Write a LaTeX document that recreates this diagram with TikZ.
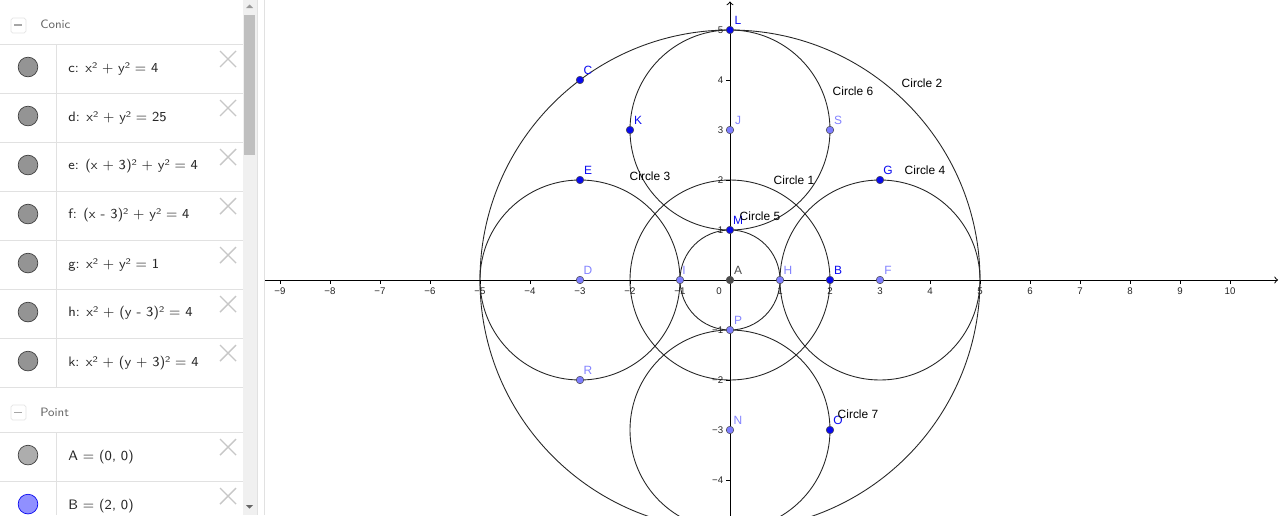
\documentclass[tikz,border=0pt]{standalone}
\usepackage{fontspec}
\setmainfont{Liberation Sans}
\usetikzlibrary{calc}
\definecolor{ptblue}{RGB}{10,10,240}
\definecolor{ptlight}{RGB}{125,125,255}
\definecolor{ptlabel}{RGB}{130,130,255}
\definecolor{rowline}{RGB}{225,225,225}
\tikzset{>=to,
  conic/.style={draw=black!85,line width=0.5pt},
  axis/.style={draw=black,line width=0.55pt},
  freept/.style={circle,draw=black!70,fill=ptblue,inner sep=0pt,minimum size=4.3pt,line width=0.3pt},
  boundpt/.style={freept,fill=ptlight},
  originpt/.style={freept,fill=black!70},
  ticklabel/.style={font=\fontsize{5.5}{6}\selectfont,text=black!85,inner sep=0pt},
  ptname/.style={font=\fontsize{6.8}{7}\selectfont,inner sep=0pt},
  circlename/.style={font=\fontsize{6.8}{7}\selectfont,text=black,inner sep=0pt},
  eqtext/.style={font=\sffamily\addfontfeatures{WordSpace=0.3}\fontsize{7.8}{10}\selectfont,text=black!85,anchor=west,inner sep=0pt},
  headtext/.style={font=\sffamily\fontsize{6.9}{8}\selectfont,text=black!60,anchor=west,inner sep=0pt},
  viewdot/.style={circle,draw=black!75,fill=black!42,minimum size=11.2pt,inner sep=0pt,line width=0.4pt},
  closex/.style={draw=black!22,line width=0.75pt},
}
\newcommand*{\closemark}[1]
  {\draw[closex] (#1) ++(-8,-8) -- ++(16,16) ++(-16,0) -- ++(16,-16)}
\newcommand*{\foldbox}[1]
  {\draw[draw=black!10,rounded corners=1pt,line width=0.4pt] (#1) ++(-7,-7) rectangle ++(15,15);
   \draw[black!35,line width=0.6pt] (#1) ++(-3.5,0) -- ++(8,0)}

\begin{document}
\begin{tikzpicture}
\useasboundingbox (-14.6,-4.7) rectangle (11,5.6);
\clip (-14.6,-4.7) rectangle (11,5.6);
\fill[white] (-14.6,-4.7) rectangle (11,5.6);
% circles
\draw[conic] (0,0) circle (2);
\draw[conic] (0,0) circle (5);
\draw[conic] (-3,0) circle (2);
\draw[conic] (3,0) circle (2);
\draw[conic] (0,0) circle (1);
\draw[conic] (0,3) circle (2);
\draw[conic] (0,-3) circle (2);
% axes
\coordinate (xstart) at (-9.3,0);
\coordinate (xend) at (10.96,0);
\coordinate (ystart) at (0,-4.8);
\coordinate (yend) at (0,5.57);
\draw[axis,->] (xstart) -- (xend);
\draw[axis,->] (ystart) -- (yend);
\foreach \x in {-9,...,-1,1,2,...,10} {
  \draw[axis] (\x,0) -- (\x,-0.07);
  \node[ticklabel] (xt\x) at (\x,-0.22) {\ifnum\x<0 −\the\numexpr-\x\relax\else\x\fi};
}
\foreach \y in {-4,-3,-2,-1,1,2,3,4,5} {
  \draw[axis] (0,\y) -- (-0.07,\y);
  \node[ticklabel,anchor=east] (yt\y) at (-0.13,\y) {\ifnum\y<0 −\the\numexpr-\y\relax\else\y\fi};
}
\node[ticklabel] (zero) at (-0.22,-0.22) {0};
% points
\node[originpt] (A) at (0,0) {};
\foreach \n/\p in {B/{2,0},C/{-3,4},E/{-3,2},G/{3,2},K/{-2,3},L/{0,5},M/{0,1},O/{2,-3}} {
  \node[freept] (\n) at (\p) {};
  \node[ptname,text=ptblue] (lab\n) at ($(\n)+(0.16,0.19)$) {\n};
}
\foreach \n/\p in {D/{-3,0},F/{3,0},H/{1,0},J/{0,3},N/{0,-3},P/{0,-1},R/{-3,-2},S/{2,3}} {
  \node[boundpt] (\n) at (\p) {};
  \node[ptname,text=ptlabel] (lab\n) at ($(\n)+(0.16,0.19)$) {\n};
}
\node[boundpt] (I) at (-1,0) {};
\node[ptname,text=ptlabel] (labI) at ($(I)+(0.08,0.19)$) {I};
\node[ptname,text=black!70] (labA) at ($(A)+(0.16,0.19)$) {A};
% circle names
\foreach \n/\t/\p in {c1/1/{1.28,2},c2/2/{3.84,3.94},c3/3/{-1.6,2.08},c4/4/{3.9,2.2},c5/5/{0.6,1.28},c6/6/{2.46,3.78},c7/7/{2.56,-2.68}}
  \node[circlename] (\n) at (\p) {Circle \t};
% algebra panel
\begin{scope}[shift={(-14.6,5.6)},x=0.02cm,y=-0.02cm]
\fill[white] (0,0) rectangle (264,515);
\fill[black!6] (243,0) rectangle (257,515);
\fill[black!25] (244,15) rectangle (255,155);
\draw[rowline] (257,0) -- (257,515);
\draw[rowline] (264.5,0) -- (264.5,515);
\fill[black!40] (246,8) -- (253,8) -- (249.5,4.5) -- cycle;
\fill[black!60] (246,505) -- (253,505) -- (249.5,508.5) -- cycle;
\foreach \y in {44,93,142,191,240,289,338,387,432,481}
  \draw[rowline] (0,\y) -- (243,\y);
\draw[rowline] (56.5,44) -- (56.5,387);
\draw[rowline] (56.5,432) -- (56.5,515);
\foldbox{18,25};
\foldbox{18,412};
\node[headtext] (headconic) at (40,24) {Conic};
\node[headtext] (headpoint) at (40,412) {Point};
\foreach \y/\eq in {67/{c: x² + y² = 4},116/{d: x² + y² = 25},165/{e: (x + 3)² + y² = 4},214/{f: (x - 3)² + y² = 4},263/{g: x² + y² = 1},312/{h: x² + (y - 3)² = 4},361/{k: x² + (y + 3)² = 4}} {
  \node[viewdot] (dot\y) at (28,\y) {};
  \node[eqtext] (eq\y) at (68,\y+1.5) {\eq};
  \closemark{228,\y-8};
}
\node[viewdot,fill=black!32] (dotA) at (28,455) {};
\node[eqtext] (eqA) at (68,456.5) {A = (0, 0)};
\closemark{228,447};
\node[viewdot,draw=ptblue,fill=ptlight!85] (dotB) at (28,504) {};
\node[eqtext] (eqB) at (68,505.5) {B = (2, 0)};
\closemark{228,496};
\end{scope}
\end{tikzpicture}
\end{document}
